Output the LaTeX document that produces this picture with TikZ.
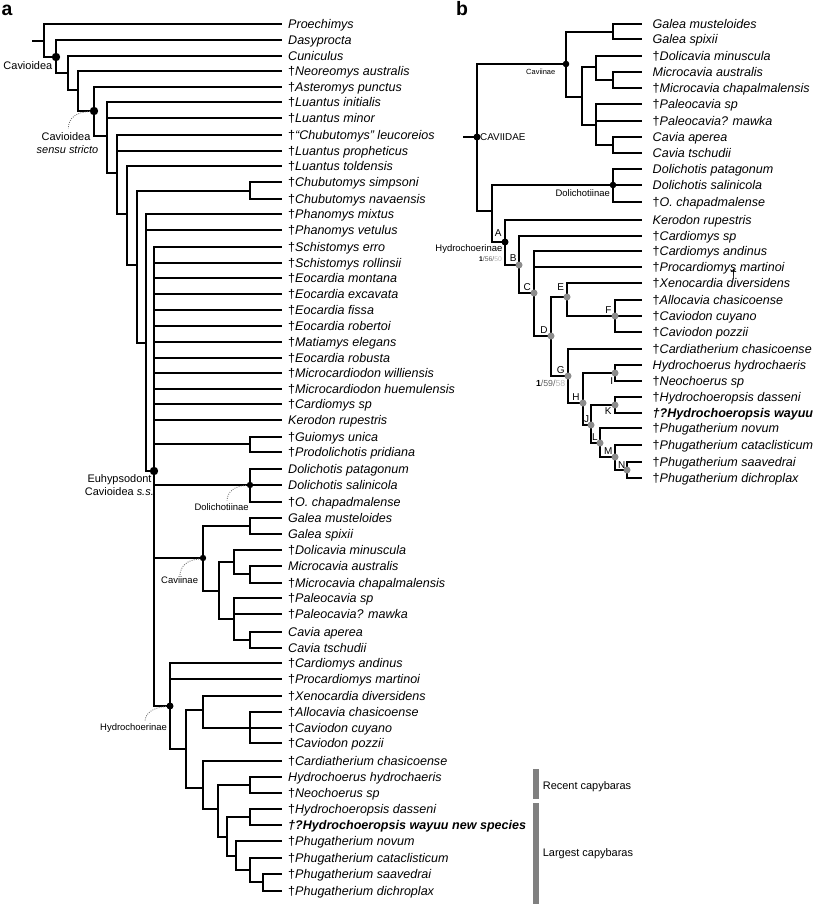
\documentclass[tikz,border=0pt]{standalone}
\usepackage{fontspec}
\setmainfont{Liberation Sans}
\definecolor{dotg}{RGB}{140,140,140}
\definecolor{barg}{RGB}{128,128,128}
\definecolor{arcg}{RGB}{105,105,105}
\definecolor{midg}{RGB}{95,95,95}
\definecolor{lightg}{RGB}{185,185,185}
\tikzset{
 edge/.style={line width=1.8bp, line join=miter},
 leafL/.style={anchor=west, inner xsep=6bp, inner ysep=0pt, text height=12pt, text depth=3pt, font=\fontsize{12.6}{14}\selectfont},
 leafR/.style={leafL, inner xsep=10.5bp},
 cladeW/.style={anchor=base west, inner sep=0pt, font=\fontsize{9.5}{10}\selectfont},
 cladeE/.style={anchor=base east, inner sep=0pt, font=\fontsize{9.5}{10}\selectfont},
 bigW/.style={anchor=base west, inner sep=0pt, font=\fontsize{11}{12}\selectfont},
 bigE/.style={anchor=base east, inner sep=0pt, font=\fontsize{11}{12}\selectfont},
 bigC/.style={anchor=base, inner sep=0pt, font=\fontsize{11}{12}\selectfont},
 letter/.style={inner sep=0pt, font=\fontsize{10}{10}\selectfont},
 support/.style={anchor=base east, inner sep=0pt},
 arcd/.style={draw=arcg, line width=0.8bp, dash pattern=on 0.9bp off 1.3bp},
 panel/.style={anchor=base west, inner sep=0pt, font=\bfseries\fontsize{19.5}{20}\selectfont},
}
\begin{document}
\begin{tikzpicture}[x=1bp,y=-1bp]
\useasboundingbox (0,0) rectangle (816,904);

% ---------------- panel a: leaves ----------------
\node[leafL] (l1) at (282,24) {\textit{Proechimys}};
\node[leafL] (l2) at (282,40) {\textit{Dasyprocta}};
\node[leafL] (l3) at (282,56) {\textit{Cuniculus}};
\node[leafL] (l4) at (282,71) {†\textit{Neoreomys australis}};
\node[leafL] (l5) at (282,87) {†\textit{Asteromys punctus}};
\node[leafL] (l6) at (282,102) {†\textit{Luantus initialis}};
\node[leafL] (l7) at (282,118) {†\textit{Luantus minor}};
\node[leafL] (l8) at (282,135) {†\textit{“Chubutomys” leucoreios}};
\node[leafL] (l9) at (282,151) {†\textit{Luantus propheticus}};
\node[leafL] (l10) at (282,166) {†\textit{Luantus toldensis}};
\node[leafL] (l11) at (282,182) {†\textit{Chubutomys simpsoni}};
\node[leafL] (l12) at (282,199) {†\textit{Chubutomys navaensis}};
\node[leafL] (l13) at (282,214) {†\textit{Phanomys mixtus}};
\node[leafL] (l14) at (282,230) {†\textit{Phanomys vetulus}};
\node[leafL] (l15) at (282,247) {†\textit{Schistomys erro}};
\node[leafL] (l16) at (282,263) {†\textit{Schistomys rollinsii}};
\node[leafL] (l17) at (282,278) {†\textit{Eocardia montana}};
\node[leafL] (l18) at (282,294) {†\textit{Eocardia excavata}};
\node[leafL] (l19) at (282,310) {†\textit{Eocardia fissa}};
\node[leafL] (l20) at (282,326) {†\textit{Eocardia robertoi}};
\node[leafL] (l21) at (282,342) {†\textit{Matiamys elegans}};
\node[leafL] (l22) at (282,358) {†\textit{Eocardia robusta}};
\node[leafL] (l23) at (282,373) {†\textit{Microcardiodon williensis}};
\node[leafL] (l24) at (282,389) {†\textit{Microcardiodon huemulensis}};
\node[leafL] (l25) at (282,404) {†\textit{Cardiomys sp}};
\node[leafL] (l26) at (282,420) {\textit{Kerodon rupestris}};
\node[leafL] (l27) at (282,437) {†\textit{Guiomys unica}};
\node[leafL] (l28) at (282,452) {†\textit{Prodolichotis pridiana}};
\node[leafL] (l29) at (282,469) {\textit{Dolichotis patagonum}};
\node[leafL] (l30) at (282,485) {\textit{Dolichotis salinicola}};
\node[leafL] (l31) at (282,502) {†\textit{O. chapadmalense}};
\node[leafL] (l32) at (282,518) {\textit{Galea musteloides}};
\node[leafL] (l33) at (282,534) {\textit{Galea spixii}};
\node[leafL] (l34) at (282,550) {†\textit{Dolicavia minuscula}};
\node[leafL] (l35) at (282,566) {\textit{Microcavia australis}};
\node[leafL] (l36) at (282,583) {†\textit{Microcavia chapalmalensis}};
\node[leafL] (l37) at (282,598) {†\textit{Paleocavia sp}};
\node[leafL] (l38) at (282,614) {†\textit{Paleocavia? mawka}};
\node[leafL] (l39) at (282,632) {\textit{Cavia aperea}};
\node[leafL] (l40) at (282,648) {\textit{Cavia tschudii}};
\node[leafL] (l41) at (282,663) {†\textit{Cardiomys andinus}};
\node[leafL] (l42) at (282,679) {†\textit{Procardiomys martinoi}};
\node[leafL] (l43) at (282,696) {†\textit{Xenocardia diversidens}};
\node[leafL] (l44) at (282,712) {†\textit{Allocavia chasicoense}};
\node[leafL] (l45) at (282,728) {†\textit{Caviodon cuyano}};
\node[leafL] (l46) at (282,743) {†\textit{Caviodon pozzii}};
\node[leafL] (l47) at (282,761) {†\textit{Cardiatherium chasicoense}};
\node[leafL] (l48) at (282,777) {\textit{Hydrochoerus hydrochaeris}};
\node[leafL] (l49) at (282,793) {†\textit{Neochoerus sp}};
\node[leafL] (l50) at (282,809) {†\textit{Hydrochoeropsis dasseni}};
\node[leafL] (l51) at (282,825) {\textbf{\textit{†?Hydrochoeropsis wayuu new species}}};
\node[leafL] (l52) at (282,841) {†\textit{Phugatherium novum}};
\node[leafL] (l53) at (282,858) {†\textit{Phugatherium cataclisticum}};
\node[leafL] (l54) at (282,874) {†\textit{Phugatherium saavedrai}};
\node[leafL] (l55) at (282,891) {†\textit{Phugatherium dichroplax}};

% ---------------- panel a: internal nodes ----------------
\coordinate (stub) at (32,41);
\coordinate (root) at (44,41);
\coordinate (Cav) at (56,57);
\coordinate (n3) at (68,73);
\coordinate (n4) at (78,90);
\coordinate (css) at (94,111);
\coordinate (n6) at (107,136);
\coordinate (n8) at (117,173);
\coordinate (n10) at (127,214);
\coordinate (n11) at (137,265);
\coordinate (c11) at (250,191);
\coordinate (n13) at (146,343);
\coordinate (eu) at (154,471);
\coordinate (cG) at (250,444);
\coordinate (cD) at (250,485);
\coordinate (cV) at (203,558);
\coordinate (cGa) at (250,526);
\coordinate (nC2) at (219,591);
\coordinate (nDM) at (234,562);
\coordinate (cM) at (250,574);
\coordinate (nPC) at (234,619);
\coordinate (cC) at (250,640);
\coordinate (hd) at (170,706);
\coordinate (nH2) at (186,749);
\coordinate (nX) at (203,710);
\coordinate (cA) at (250,728);
\coordinate (n47) at (203,788);
\coordinate (cHH) at (218,809);
\coordinate (cH) at (250,785);
\coordinate (cP1) at (227,837);
\coordinate (cHy) at (250,817);
\coordinate (cP2) at (236,856);
\coordinate (cP3) at (250,870);
\coordinate (cP4) at (263,882);

\draw[edge] (stub) -- (root);
\foreach \p/\c in {root/l1, root/Cav, Cav/l2, Cav/n3, n3/l3, n3/n4, n4/l4, n4/css,
  css/l5, css/n6, n6/l6, n6/l7, n6/n8, n8/l8, n8/l9, n8/n10, n10/l10, n10/n11,
  n11/c11, n11/n13, c11/l11, c11/l12, n13/l13, n13/l14, n13/eu,
  eu/l15, eu/l16, eu/l17, eu/l18, eu/l19, eu/l20, eu/l21, eu/l22, eu/l23, eu/l24, eu/l25, eu/l26,
  eu/cG, eu/cD, eu/cV, eu/hd, cG/l27, cG/l28, cD/l29, cD/l30, cD/l31,
  cV/cGa, cV/nC2, cGa/l32, cGa/l33, nC2/nDM, nC2/nPC, nDM/l34, nDM/cM, cM/l35, cM/l36,
  nPC/l37, nPC/l38, nPC/cC, cC/l39, cC/l40,
  hd/l41, hd/l42, hd/nH2, nH2/nX, nH2/n47, nX/l43, nX/cA, cA/l44, cA/l45, cA/l46,
  n47/l47, n47/cHH, cHH/cH, cHH/cP1, cH/l48, cH/l49, cP1/cHy, cP1/cP2, cHy/l50, cHy/l51,
  cP2/l52, cP2/cP3, cP3/l53, cP3/cP4, cP4/l54, cP4/l55}
  \draw[edge] (\p) |- (\c);

\fill (Cav) circle (4.2);
\fill (css) circle (4.2);
\fill (eu) circle (4.2);
\fill (cD) circle (3.2);
\fill (cV) circle (3.2);
\fill (hd) circle (3.5);

% clade labels panel a
\node[bigW] (tCav) at (3.3,69) {Cavioidea};
\node[bigC] (tCss1) at (66,140.6) {Cavioidea};
\node[bigC] (tCss2) at (67.5,153.3) {\textit{sensu stricto}};
\node[bigE] (tEu1) at (151.7,482.2) {Euhypsodont};
\node[bigE] (tEu2) at (154,495) {Cavioidea \textit{s.s.}};
\node[cladeW] (tDol) at (194.3,510) {Dolichotiinae};
\node[cladeW] (tCavi) at (161,583.4) {Caviinae};
\node[cladeW] (tHyd) at (100,730) {Hydrochoerinae};
\draw[arcd] (90,111.5) .. controls (76,112) and (68.5,118) .. (68.3,128.5);
\draw[arcd] (246,485.5) .. controls (234,486) and (227.5,492) .. (227,500.5);
\draw[arcd] (199,559) .. controls (187,560) and (180.5,566) .. (180,575);
\draw[arcd] (166,706.5) .. controls (153,707.5) and (145.5,713) .. (145,721);

% bars
\fill[barg] (533.3,769.3) rectangle (539.3,799.3);
\fill[barg] (533.3,802.7) rectangle (539.3,904);
\node[bigW] (tRec) at (542.7,789) {Recent capybaras};
\node[bigW] (tLar) at (542.7,856.3) {Largest capybaras};

\node[panel] (pa) at (1.5,15) {a};
\node[panel] (pb) at (456,15) {b};

% ---------------- panel b: leaves ----------------
\node[leafR] (r1) at (642,24) {\textit{Galea musteloides}};
\node[leafR] (r2) at (642,39) {\textit{Galea spixii}};
\node[leafR] (r3) at (642,56) {†\textit{Dolicavia minuscula}};
\node[leafR] (r4) at (642,72) {\textit{Microcavia australis}};
\node[leafR] (r5) at (642,88) {†\textit{Microcavia chapalmalensis}};
\node[leafR] (r6) at (642,104) {†\textit{Paleocavia sp}};
\node[leafR] (r7) at (642,121) {†\textit{Paleocavia? mawka}};
\node[leafR] (r8) at (642,137) {\textit{Cavia aperea}};
\node[leafR] (r9) at (642,153) {\textit{Cavia tschudii}};
\node[leafR] (r10) at (642,169) {\textit{Dolichotis patagonum}};
\node[leafR] (r11) at (642,185) {\textit{Dolichotis salinicola}};
\node[leafR] (r12) at (642,202) {†\textit{O. chapadmalense}};
\node[leafR] (r13) at (642,220) {\textit{Kerodon rupestris}};
\node[leafR] (r14) at (642,236) {†\textit{Cardiomys sp}};
\node[leafR] (r15) at (642,251) {†\textit{Cardiomys andinus}};
\node[leafR] (r16) at (642,267) {†\textit{Procardiomys martinoi}};
\node[leafR] (r17) at (642,283) {†\textit{Xenocardia diversidens}};
\node[leafR] (r18) at (642,300) {†\textit{Allocavia chasicoense}};
\node[leafR] (r19) at (642,316) {†\textit{Caviodon cuyano}};
\node[leafR] (r20) at (642,332) {†\textit{Caviodon pozzii}};
\node[leafR] (r21) at (642,349) {†\textit{Cardiatherium chasicoense}};
\node[leafR] (r22) at (642,365) {\textit{Hydrochoerus hydrochaeris}};
\node[leafR] (r23) at (642,381) {†\textit{Neochoerus sp}};
\node[leafR] (r24) at (642,397) {†\textit{Hydrochoeropsis dasseni}};
\node[leafR] (r25) at (642,413) {\textbf{\textit{†?Hydrochoeropsis wayuu}}};
\node[leafR] (r26) at (642,428) {†\textit{Phugatherium novum}};
\node[leafR] (r27) at (642,445) {†\textit{Phugatherium cataclisticum}};
\node[leafR] (r28) at (642,462) {†\textit{Phugatherium saavedrai}};
\node[leafR] (r29) at (642,478) {†\textit{Phugatherium dichroplax}};
\node[inner sep=0pt, font=\fontsize{12.6}{14}\selectfont] (stray) at (733.5,274.5) {†};

% ---------------- panel b: internal nodes ----------------
\coordinate (rstub) at (463,137);
\coordinate (RR) at (477,137);
\coordinate (RV) at (566,64);
\coordinate (RG) at (613,32);
\coordinate (R2) at (582,97);
\coordinate (RDM) at (596,67);
\coordinate (RM) at (613,80);
\coordinate (RPC) at (596,125);
\coordinate (RC) at (613,145);
\coordinate (RDH) at (492,211);
\coordinate (RD) at (613,185);
\coordinate (RA) at (505,242);
\coordinate (RB) at (519,265);
\coordinate (RCn) at (534,293);
\coordinate (RDn) at (551,336);
\coordinate (RE) at (567,297);
\coordinate (RF) at (615,316);
\coordinate (RG2) at (568,376);
\coordinate (RH) at (583,403);
\coordinate (RI) at (615,373);
\coordinate (RJ) at (591,425);
\coordinate (RK) at (615,405);
\coordinate (RL) at (600,443);
\coordinate (RMn) at (615,457);
\coordinate (RN) at (627,470);

\draw[edge] (rstub) -- (RR);
\foreach \p/\c in {RR/RV, RR/RDH, RV/RG, RV/R2, RG/r1, RG/r2, R2/RDM, R2/RPC,
  RDM/r3, RDM/RM, RM/r4, RM/r5, RPC/r6, RPC/r7, RPC/RC, RC/r8, RC/r9,
  RDH/RD, RDH/RA, RD/r10, RD/r11, RD/r12, RA/r13, RA/RB, RB/r14, RB/RCn,
  RCn/r15, RCn/r16, RCn/RDn, RDn/RE, RDn/RG2, RE/r17, RE/RF, RF/r18, RF/r19, RF/r20,
  RG2/r21, RG2/RH, RH/RI, RH/RJ, RI/r22, RI/r23, RJ/RK, RJ/RL, RK/r24, RK/r25,
  RL/r26, RL/RMn, RMn/r27, RMn/RN, RN/r28, RN/r29}
  \draw[edge] (\p) |- (\c);

\fill (RR) circle (3.5);
\fill (RV) circle (3.3);
\fill (RD) circle (3.3);
\fill (RA) circle (3.5);
\foreach \q in {RB, RCn, RDn, RE, RF, RG2, RH, RI, RJ, RK, RL, RMn, RN}
  \fill[dotg] (\q) circle (3.5);

% clade labels panel b
\node[anchor=base west, inner sep=0pt, font=\fontsize{9.9}{10}\selectfont] (tCAV) at (480,140.3) {CAVIIDAE};
\node[cladeE, font=\fontsize{7.5}{8}\selectfont] (tRV) at (555.5,74.5) {Caviinae};
\node[cladeE] (tRD) at (610,196) {Dolichotiinae};
\node[cladeE] (tRA) at (502.5,251.7) {Hydrochoerinae};
\node[support, font=\fontsize{6.8}{7}\selectfont] (sA) at (502,261) {\textbf{1}\textcolor{midg}{/56/}\textcolor{lightg}{50}};
\node[support, font=\fontsize{8.8}{9}\selectfont] (sG) at (565.5,386) {\textbf{1}\textcolor{midg}{/59/}\textcolor{lightg}{58}};
\node[letter] (lA) at (498.3,233.3) {A};
\node[letter] (lB) at (513.3,258.3) {B};
\node[letter] (lC) at (527.3,286.7) {C};
\node[letter] (lD) at (544,330) {D};
\node[letter] (lE) at (560.7,287.3) {E};
\node[letter] (lF) at (608.3,310) {F};
\node[letter] (lG) at (560.7,370) {G};
\node[letter] (lH) at (576,396.7) {H};
\node[letter] (lI) at (611.7,381) {I};
\node[letter] (lJ) at (586.7,419.3) {J};
\node[letter] (lK) at (608.3,410.7) {K};
\node[letter] (lL) at (595,436.7) {L};
\node[letter] (lM) at (608.3,451) {M};
\node[letter] (lN) at (621.7,465) {N};
\end{tikzpicture}
\end{document}
